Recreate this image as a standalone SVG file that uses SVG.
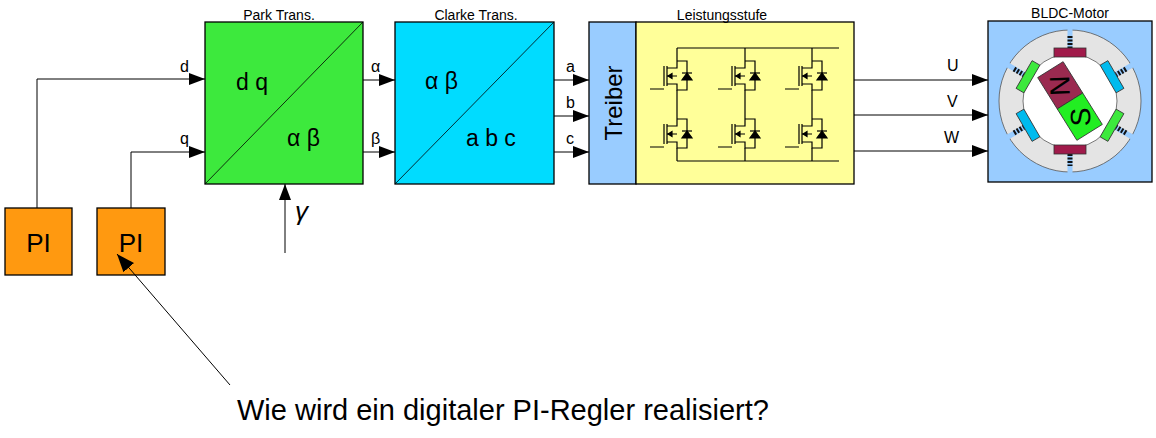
<svg xmlns="http://www.w3.org/2000/svg" width="1156" height="438" viewBox="0 0 1156 438">
<style>
text{font-family:"Liberation Sans",Arial,sans-serif;fill:#000}
.b{stroke:#000;stroke-width:1.3}
.w{fill:none;stroke:#000;stroke-width:1.2}
.c{fill:none;stroke:#000;stroke-width:1}
</style>
<defs>
<marker id="ar" markerWidth="16" markerHeight="12" refX="16" refY="6" orient="auto" markerUnits="userSpaceOnUse"><path d="M0,0 L16,6 L0,12z"/></marker>
<marker id="ab" markerWidth="18" markerHeight="14" refX="18" refY="7" orient="auto" markerUnits="userSpaceOnUse"><path d="M0,0 L18,7 L0,14z"/></marker>
<g id="cell" class="w">
<path d="M0,0 H10 V29 H0 V23 H-10 M0,0 V7 H-10 M-10,5 V25 M-13,5 V25 M-27,28 H-13 M-10,15 H0"/>
<path d="M-9,15 l4,-2.5 v5z" fill="#000"/>
<path d="M5,19 H15 L10,12z" fill="#000"/>
<path d="M5,12 H15"/>
</g>
</defs>
<rect width="1156" height="438" fill="#fff"/>
<g id="park">
<rect x="205" y="22" width="158" height="162" fill="#3de93d" class="b"/>
<line x1="205" y1="184" x2="363" y2="22" stroke="#000" stroke-width="0.8"/>
<text x="279" y="20" font-size="14" text-anchor="middle">Park Trans.</text>
<text x="236" y="90" font-size="23">d q</text>
<text x="287" y="146" font-size="23">α β</text>
</g>
<g id="clarke">
<rect x="395" y="22" width="159" height="162" fill="#00dcff" class="b"/>
<line x1="395" y1="184" x2="554" y2="22" stroke="#000" stroke-width="0.8"/>
<text x="476" y="20" font-size="14" text-anchor="middle">Clarke Trans.</text>
<text x="425" y="89" font-size="23">α β</text>
<text x="466" y="146" font-size="23">a b c</text>
</g>
<g id="treiber">
<rect x="589" y="22" width="47" height="162" fill="#99ccff" class="b"/>
<text transform="translate(622,103) rotate(-90)" font-size="24" text-anchor="middle">Treiber</text>
</g>
<g id="leistung">
<rect x="636" y="22" width="218" height="162" fill="#ffff99" class="b"/>
<text x="722" y="20" font-size="14" text-anchor="middle">Leistungsstufe</text>
<path class="w" d="M677,48 H839 M677,161 H839 M677,48 V61 M677,90 V119 M677,148 V161 M745,48 V61 M745,90 V119 M745,148 V161 M812,48 V61 M812,90 V119 M812,148 V161"/>
<use href="#cell" x="677" y="61"/><use href="#cell" x="745" y="61"/><use href="#cell" x="812" y="61"/>
<use href="#cell" x="677" y="119"/><use href="#cell" x="745" y="119"/><use href="#cell" x="812" y="119"/>
</g>
<g id="motor">
<rect x="988" y="21" width="164" height="161" fill="#99ccff" class="b"/>
<text x="1070" y="18" font-size="14" text-anchor="middle">BLDC-Motor</text>
<circle cx="1070" cy="101" r="71" fill="#e4e4e4" stroke="#555" stroke-width="0.8"/>
<g stroke="#99ccff" stroke-width="5">
<line x1="1070" y1="101" x2="1070" y2="28"/><line x1="1070" y1="101" x2="1070" y2="174"/>
<line x1="1070" y1="101" x2="1006" y2="64"/><line x1="1070" y1="101" x2="1134" y2="64"/>
<line x1="1070" y1="101" x2="1006" y2="138"/><line x1="1070" y1="101" x2="1134" y2="138"/>
</g>
<g stroke="#111" stroke-width="5" stroke-dasharray="2 1.5">
<line x1="1070" y1="36" x2="1070" y2="48"/><line x1="1070" y1="154" x2="1070" y2="166"/>
<line x1="1014" y1="69" x2="1024" y2="75"/><line x1="1126" y1="69" x2="1116" y2="75"/>
<line x1="1014" y1="133" x2="1024" y2="127"/><line x1="1126" y1="133" x2="1116" y2="127"/>
</g>
<circle cx="1070" cy="101" r="47" fill="#fff" stroke="#555" stroke-width="0.8"/>
<g stroke="#333" stroke-width="0.8">
<rect x="1054" y="48" width="32" height="9" fill="#a01a4a"/>
<rect x="1054" y="145" width="32" height="9" fill="#a01a4a"/>
<rect x="1054" y="48" width="32" height="9" fill="#3de93d" transform="rotate(-60 1070 101)"/>
<rect x="1054" y="48" width="32" height="9" fill="#00bbee" transform="rotate(60 1070 101)"/>
<rect x="1054" y="48" width="32" height="9" fill="#00bbee" transform="rotate(-120 1070 101)"/>
<rect x="1054" y="48" width="32" height="9" fill="#3de93d" transform="rotate(120 1070 101)"/>
<g transform="rotate(-32 1070 101)">
<rect x="1055" y="64" width="30" height="37" fill="#9a2a50"/>
<rect x="1055" y="101" width="30" height="37" fill="#22ee22"/>
<text x="1070" y="92" font-size="28" text-anchor="middle" stroke="none" transform="rotate(-60 1070 83)">N</text>
<text x="1070" y="130" font-size="28" text-anchor="middle" stroke="none" transform="rotate(-60 1070 120)">S</text>
</g>
</g>
</g>
<g id="pi1"><rect x="5" y="208" width="67" height="67" fill="#ff9910" class="b"/><text x="38.5" y="252" font-size="26" text-anchor="middle">PI</text></g>
<g id="pi2"><rect x="97" y="208" width="68" height="67" fill="#ff9910" class="b"/><text x="131" y="252" font-size="26" text-anchor="middle">PI</text></g>
<g id="connectors" class="c">
<path d="M37,208 V79 H205" marker-end="url(#ar)"/>
<path d="M131,208 V152 H205" marker-end="url(#ar)"/>
<path d="M363,80 H395" marker-end="url(#ar)"/>
<path d="M363,152 H395" marker-end="url(#ar)"/>
<path d="M554,80 H589" marker-end="url(#ar)"/>
<path d="M554,116 H589" marker-end="url(#ar)"/>
<path d="M554,152 H589" marker-end="url(#ar)"/>
<path d="M854,80 H988" marker-end="url(#ar)"/>
<path d="M854,115 H988" marker-end="url(#ar)"/>
<path d="M854,151 H988" marker-end="url(#ar)"/>
<path d="M285,253 V184" marker-end="url(#ar)"/>
<path d="M230,385 L117,254" marker-end="url(#ab)"/>
</g>
<g id="labels">
<text x="180" y="72" font-size="16">d</text>
<text x="180" y="144" font-size="16">q</text>
<text x="371" y="72" font-size="16">α</text>
<text x="371" y="144" font-size="16">β</text>
<text x="566" y="72" font-size="16">a</text>
<text x="566" y="108" font-size="16">b</text>
<text x="566" y="144" font-size="16">c</text>
<text x="947" y="71" font-size="16">U</text>
<text x="947" y="107" font-size="16">V</text>
<text x="944" y="143" font-size="16">W</text>
<text x="295" y="220" font-size="26" font-family="Liberation Serif,serif" font-style="italic">γ</text>
<text x="237" y="420" font-size="29">Wie wird ein digitaler PI-Regler realisiert?</text>
</g>
</svg>
